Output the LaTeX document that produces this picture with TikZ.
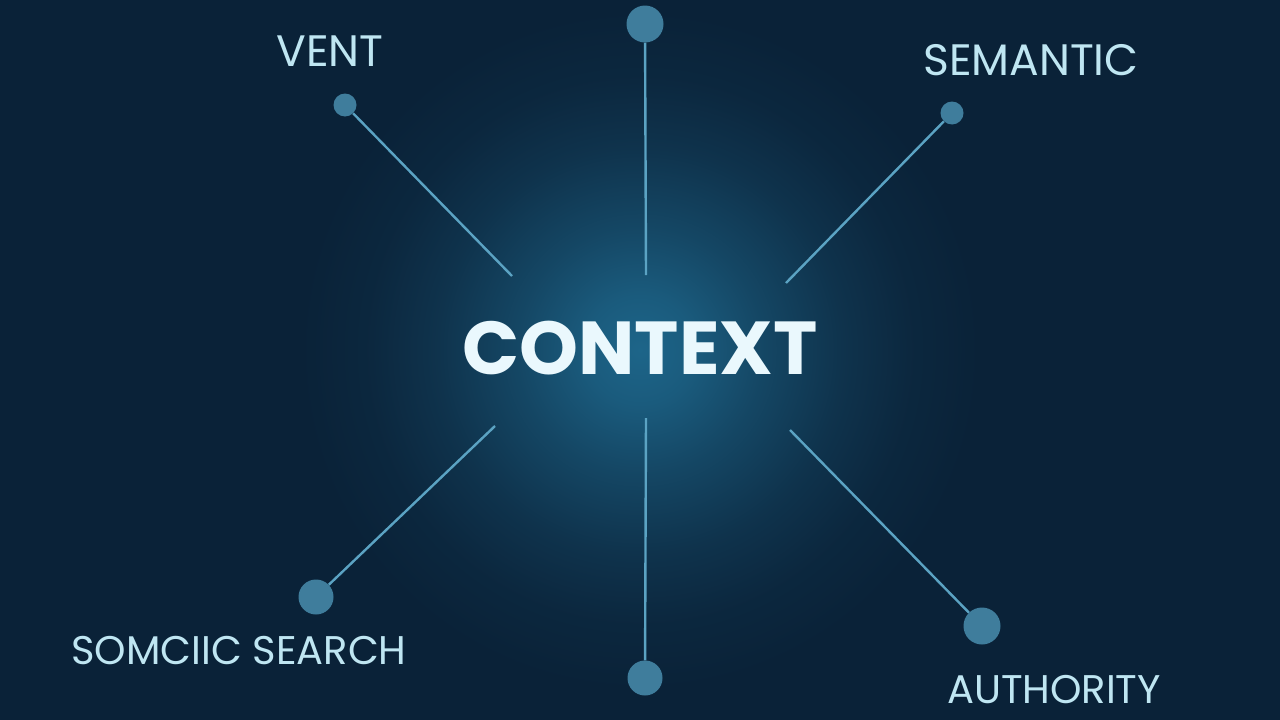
\documentclass[tikz,border=0pt]{standalone}
\usepackage{fontspec}
\setmainfont{Poppins}
\definecolor{bg}{HTML}{0A2238}
\definecolor{glow}{HTML}{1D6589}
\definecolor{dotc}{HTML}{3F7D9C}
\definecolor{linec}{HTML}{5BA3C3}
\definecolor{labc}{HTML}{BFE6F2}
\definecolor{mainc}{HTML}{EAF8FD}
\pgfdeclareradialshading{hubglow}{\pgfpoint{0bp}{0bp}}{%
  color(0bp)=(glow); color(4bp)=(glow!85!bg); color(9bp)=(glow!55!bg);
  color(15bp)=(glow!25!bg); color(20bp)=(glow!8!bg); color(25bp)=(bg); color(50bp)=(bg)}
\tikzset{
  dotnode/.style={circle,fill=dotc,inner sep=0pt,minimum size=#1},
  spoke/.style={linec,line width=2.4pt},
  label/.style={text=labc,font=\fontsize{44}{44}\selectfont,inner sep=0pt},
  smalllabel/.style={text=labc,font=\fontsize{40}{40}\selectfont,inner sep=0pt},
  mainlab/.style={text=mainc,font=\fontsize{75}{75}\selectfont\bfseries,inner sep=0pt}
}
\begin{document}
\begin{tikzpicture}[x=1pt,y={(0,-1pt)}]
\useasboundingbox (0,0) rectangle (1280,720);
\fill[bg] (0,0) rectangle (1280,720);
\shade[shading=hubglow] (640,350) circle (340);
% hub
\node[mainlab] (ctx) at (640,348) {CONTEXT};
% inner ends
\coordinate (iT) at (646,275);
\coordinate (iTL) at (512,276);
\coordinate (iTR) at (786,283);
\coordinate (iBL) at (495,426);
\coordinate (iB) at (646,418);
\coordinate (iBR) at (790,430);
% dots
\node[dotnode=37pt] (dT) at (645,24) {};
\node[dotnode=23pt] (dTL) at (345,105) {};
\node[dotnode=23pt] (dTR) at (952,113) {};
\node[dotnode=35pt] (dBL) at (316,597) {};
\node[dotnode=35pt] (dB) at (645,678) {};
\node[dotnode=37pt] (dBR) at (982,626) {};
% spokes
\draw[spoke] (iT) -- (dT);
\draw[spoke] (iTL) -- (dTL);
\draw[spoke] (iTR) -- (dTR);
\draw[spoke] (iBL) -- (dBL);
\draw[spoke] (iB) -- (dB);
\draw[spoke] (iBR) -- (dBR);
% labels
\node[label] (lVent) at (330,51) {VENT};
\node[label] (lSem) at (1031,60) {SEMANTIC};
\node[smalllabel] (lSea) at (239,651) {SOMCIIC SEARCH};
\node[smalllabel] (lAut) at (1054,690) {AUTHORITY};
\end{tikzpicture}
\end{document}
